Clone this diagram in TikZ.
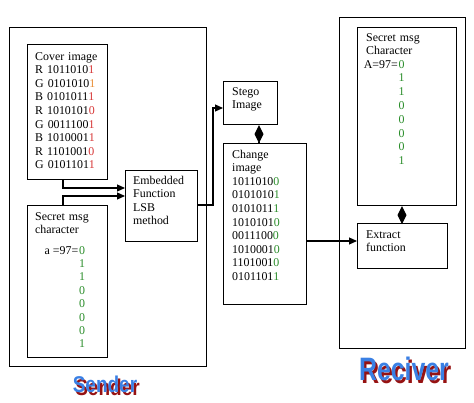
\documentclass[tikz,border=0pt]{standalone}
\usepackage{fontspec}
\setmainfont{Liberation Serif}
\newfontfamily\labfont{Liberation Sans}
\usetikzlibrary{arrows.meta,calc}
\definecolor{rd}{RGB}{214,52,52}
\definecolor{orn}{RGB}{232,140,50}
\definecolor{gr}{RGB}{40,140,40}
\definecolor{lblue}{RGB}{58,128,228}
\definecolor{shad}{RGB}{150,18,18}
\newcommand{\shadtext}[1]{\makebox[0pt][l]{\hspace{2.5pt}\raisebox{-2.5pt}{\textcolor{shad}{#1}}}\textcolor{lblue}{#1}}
\begin{document}
\begin{tikzpicture}[x=1pt,y=-1pt,
  box/.style={draw,line width=1.1pt,rectangle,inner sep=0pt,anchor=north west},
  txt/.style={inner sep=0pt,anchor=base west,align=left,text width=#1,
    font=\fontsize{11.9}{13.6}\selectfont},
  txt/.default=80pt,
  digs/.style={inner sep=0pt,anchor=base,align=center,text width=8pt,text=gr,
    font=\fontsize{11.9}{#1}\selectfont},
  arr/.style={line width=1.1pt,-{Triangle[length=8pt,width=7pt]}},
  dia/.style={line width=1.1pt,-{Diamond[length=18pt,width=9pt]}},
  lab/.style={inner sep=0pt,font=\labfont\bfseries}]
\useasboundingbox (0,0) rectangle (474,402);
% boxes
\node[box,minimum width=197pt,minimum height=339pt] (sender) at (9,27) {};
\node[box,minimum width=80pt,minimum height=135pt] (cover) at (27,44) {};
\node[box,minimum width=72pt,minimum height=71pt] (embed) at (125,170) {};
\node[box,minimum width=80pt,minimum height=152pt] (secret) at (27,205) {};
\node[box,minimum width=54pt,minimum height=43pt] (stego) at (223,81) {};
\node[box,minimum width=83pt,minimum height=161pt] (change) at (223,143) {};
\node[box,minimum width=126pt,minimum height=331pt] (receiver) at (339,17) {};
\node[box,minimum width=99pt,minimum height=178pt] (rsecret) at (357,27) {};
\node[box,minimum width=90pt,minimum height=45pt] (extract) at (357,223) {};
% texts
\node[txt] (tcover) at (35,60) {Cover image\\
R 1011010\textcolor{rd}{1}\\
G 0101010\textcolor{orn}{1}\\
B 0101011\textcolor{rd}{1}\\
R 1010101\textcolor{rd}{0}\\
G 0011100\textcolor{rd}{1}\\
B 1010001\textcolor{rd}{1}\\
R 1101001\textcolor{rd}{0}\\
G 0101101\textcolor{rd}{1}};
\node[txt] (tembed) at (133,184) {Embedded\\Function\\LSB\\method};
\node[txt] (tsecret) at (35,220) {Secret msg\\character};
\node[digs=13.4] (sdig) at (82,254) {0\\1\\1\\0\\0\\0\\0\\1};
\node[inner sep=0pt,anchor=base east,font=\fontsize{11.9}{13.6}\selectfont] (sa) at (78.5,254) {a =97=};
\node[txt] (tstego) at (232,95) {Stego\\Image};
\node[txt] (tchange) at (232,158) {Change\\image\\
1011010\textcolor{gr}{0}\\
0101010\textcolor{gr}{1}\\
0101011\textcolor{gr}{1}\\
1010101\textcolor{gr}{0}\\
0011100\textcolor{gr}{0}\\
1010001\textcolor{gr}{0}\\
1101001\textcolor{gr}{0}\\
0101101\textcolor{gr}{1}};
\node[txt] (trsecret) at (366,41) {Secret msg\\Character};
\node[digs=13.8] (rdig) at (401.5,68) {0\\1\\1\\0\\0\\0\\0\\1};
\node[inner sep=0pt,anchor=base east,font=\fontsize{11.9}{13.6}\selectfont] (ra) at (398,68) {A=97=};
\node[txt] (textract) at (366,238) {Extract\\function};
% connectors
\draw[arr] ($(cover.south west)+(36,0)$) |- ($(embed.north west)+(0,18)$);
\draw[arr] ($(secret.north west)+(36,0)$) |- ($(embed.north west)+(0,26)$);
\draw[arr] ($(embed.north east)+(0,35)$) -| ($(stego.north west)+(-10,27)$) -- ($(stego.north west)+(0,27)$);
\draw[dia] ($(change.north west)+(36,0)$) -- ($(stego.south west)+(36,0)$);
\draw[arr] ($(change.north east)+(0,98)$) -- ($(extract.north west)+(0,18)$);
\draw[dia] ($(extract.north west)+(45,0)$) -- ($(rsecret.south west)+(45,0)$);
% labels
\node[lab] (send) at (105,386) {\fontsize{19}{19}\selectfont\scalebox{1}[1.2]{\shadtext{Sender}}};
\node[lab] (rec) at (404,370) {\fontsize{27}{27}\selectfont\scalebox{0.92}[1.2]{\shadtext{Reciver}}};
\end{tikzpicture}
\end{document}
